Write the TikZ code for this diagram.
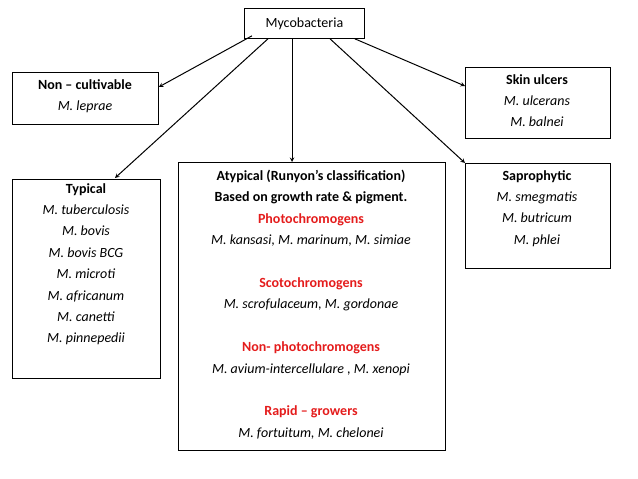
\documentclass[tikz,border=0pt]{standalone}
\usepackage{fontspec}
\setmainfont{Carlito}
\definecolor{myred}{RGB}{228,28,28}
\begin{document}
\begin{tikzpicture}[x=1pt,y=-1pt,
 box/.style={draw,line width=0.8pt,anchor=north west,inner sep=0pt},
 txt/.style={align=center,anchor=north,inner sep=0pt,font=\fontsize{14}{21.4}\selectfont},
 arr/.style={-stealth,line width=1pt}]
\useasboundingbox (0,0) rectangle (638,479);
\node[box,minimum width=120pt,minimum height=30pt] (my) at (244,8) {};
\node[txt,anchor=center] (myt) at (my.center) {Mycobacteria};
\node[box,minimum width=146pt,minimum height=52pt] (nc) at (12,72) {};
\node[box,minimum width=145pt,minimum height=71pt] (sk) at (465,67) {};
\node[box,minimum width=148pt,minimum height=199pt] (ty) at (12,179) {};
\node[box,minimum width=267pt,minimum height=288pt] (at) at (178,162) {};
\node[box,minimum width=145pt,minimum height=105pt] (sa) at (465,163) {};
\node[txt] (nct) at (85,79) {\textbf{Non – cultivable}\\\textit{M. leprae}};
\node[txt] (skt) at (537,74) {\textbf{Skin ulcers}\\\textit{M. ulcerans}\\\textit{M. balnei}};
\node[txt] (tyt) at (86,183) {\textbf{Typical}\\\textit{M. tuberculosis}\\\textit{M. bovis}\\\textit{M. bovis BCG}\\\textit{M. microti}\\\textit{M. africanum}\\\textit{M. canetti}\\\textit{M. pinnepedii}};
\node[txt] (att) at (311,170) {\textbf{Atypical (Runyon’s classification)}\\\textbf{Based on growth rate \& pigment.}\\\textcolor{myred}{\textbf{Photochromogens}}\\\textit{M. kansasi, M. marinum, M. simiae}\\[21.4pt]\textcolor{myred}{\textbf{Scotochromogens}}\\\textit{M. scrofulaceum, M. gordonae}\\[21.4pt]\textcolor{myred}{\textbf{Non- photochromogens}}\\\textit{M. avium-intercellulare , M. xenopi}\\[21.4pt]\textcolor{myred}{\textbf{Rapid – growers}}\\\textit{M. fortuitum, M. chelonei}};
\node[txt] (sat) at (537,170) {\textbf{Saprophytic}\\\textit{M. smegmatis}\\\textit{M. butricum}\\\textit{M. phlei}};
\draw[arr] ([shift={(8,-3)}]my.south west) -- (nc.east |- 0,87);
\draw[arr] ([shift={(24,0)}]my.south west) -- (115,178);
\draw[arr] (292,38) -- (at.north -| 292,0);
\draw[arr] ([shift={(86,0)}]my.south west) -- (sa.north west);
\draw[arr] ([shift={(-10,0)}]my.south east) -- (sk.west |- 0,86);
\end{tikzpicture}
\end{document}
